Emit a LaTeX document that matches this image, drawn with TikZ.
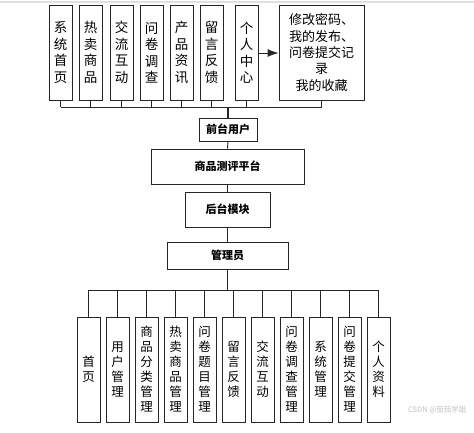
\documentclass[tikz,border=0pt]{standalone}
\usepackage{fontspec}
\newfontfamily\cjk{Noto Sans CJK SC}
\usetikzlibrary{arrows.meta}
\begin{document}
\begin{tikzpicture}[x=1pt,y=-1pt,
  box/.style={draw=black!85, line width=0.9pt, inner sep=0pt, align=center},
  topbox/.style={box, minimum width=23pt, minimum height=95pt, font=\cjk\fontsize{13.5}{16.5}\selectfont},
  midbox/.style={box, font=\cjk\bfseries\fontsize{11}{13}\selectfont},
  botbox/.style={box, minimum width=23pt, minimum height=105pt, font=\cjk\fontsize{12.5}{15}\selectfont},
  conn/.style={draw=black!85, line width=0.9pt}
]
\useasboundingbox (0,0) rectangle (474,432);
\draw[black!12, line width=2pt] (0,2) -- (474,2);

% top row
\node[topbox] (t1) at (60.5,52.5) {系\\统\\首\\页};
\node[topbox] (t2) at (90.5,52.5) {热\\卖\\商\\品};
\node[topbox] (t3) at (121.5,52.5) {交\\流\\互\\动};
\node[topbox] (t4) at (151.5,52.5) {问\\卷\\调\\查};
\node[topbox] (t5) at (181.5,52.5) {产\\品\\资\\讯};
\node[topbox] (t6) at (211.5,52.5) {留\\言\\反\\馈};
\node[topbox] (t7) at (246.5,52.5) {个\\人\\中\\心};
\node[topbox, minimum width=85pt, font=\cjk\fontsize{13}{16.3}\selectfont] (t8) at (321.5,52.5) {修改密码、\\我的发布、\\问卷提交记\\录\\我的收藏};

\draw[conn, -{Latex[length=11pt,width=8pt]}] (t7.east |- 0,53) -- (t8.west |- 0,53);

% middle
\node[midbox, minimum width=58pt, minimum height=23pt] (qt) at (228,129.5) {前台用户};
\node[midbox, minimum width=153pt, minimum height=35pt] (pt) at (227.5,166.5) {商品测评平台};
\node[midbox, minimum width=85pt, minimum height=35pt] (ht) at (227.5,209.5) {后台模块};
\node[midbox, minimum width=121pt, minimum height=27pt] (gl) at (227.5,255.5) {管理员};

% top bus
\coordinate (bus1) at (228,107);
\foreach \n in {t1,t2,t3,t4,t5,t6,t7,t8} {
  \draw[conn] (\n.south) -- (\n.south |- bus1);
}
\draw[conn] (t1.south |- bus1) -- (t8.south |- bus1);
\draw[conn, line width=1.3pt] (bus1) -- (qt.north);
\draw[conn] (qt.south) -- (pt.north);
\draw[conn] (pt.south) -- (ht.north);
\draw[conn] (ht.south) -- (gl.north);

% bottom row
\node[botbox] (b1) at (88.5,369.5) {首\\页};
\node[botbox] (b2) at (117.5,369.5) {用\\户\\管\\理};
\node[botbox] (b3) at (146.5,369.5) {商\\品\\分\\类\\管\\理};
\node[botbox] (b4) at (175.5,369.5) {热\\卖\\商\\品\\管\\理};
\node[botbox] (b5) at (204.5,369.5) {问\\卷\\题\\目\\管\\理};
\node[botbox] (b6) at (233.5,369.5) {留\\言\\反\\馈};
\node[botbox] (b7) at (262.5,369.5) {交\\流\\互\\动};
\node[botbox] (b8) at (291.5,369.5) {问\\卷\\调\\查\\管\\理};
\node[botbox] (b9) at (320.5,369.5) {系\\统\\管\\理};
\node[botbox] (b10) at (349.5,369.5) {问\\卷\\提\\交\\管\\理};
\node[botbox] (b11) at (378.5,369.5) {个\\人\\资\\料};

\coordinate (bus2) at (227.5,290);
\draw[conn] (gl.south) -- (bus2);
\draw[conn] (b1.north |- bus2) -- (b11.north |- bus2);
\foreach \n in {b1,b2,b3,b4,b5,b6,b7,b8,b9,b10,b11} {
  \draw[conn] (\n.north |- bus2) -- (\n.north);
}

\node[font=\cjk\fontsize{7.5}{9}\selectfont, text=black!25, anchor=east] (wm) at (470,410) {CSDN @茄茄学姐};
\end{tikzpicture}
\end{document}
